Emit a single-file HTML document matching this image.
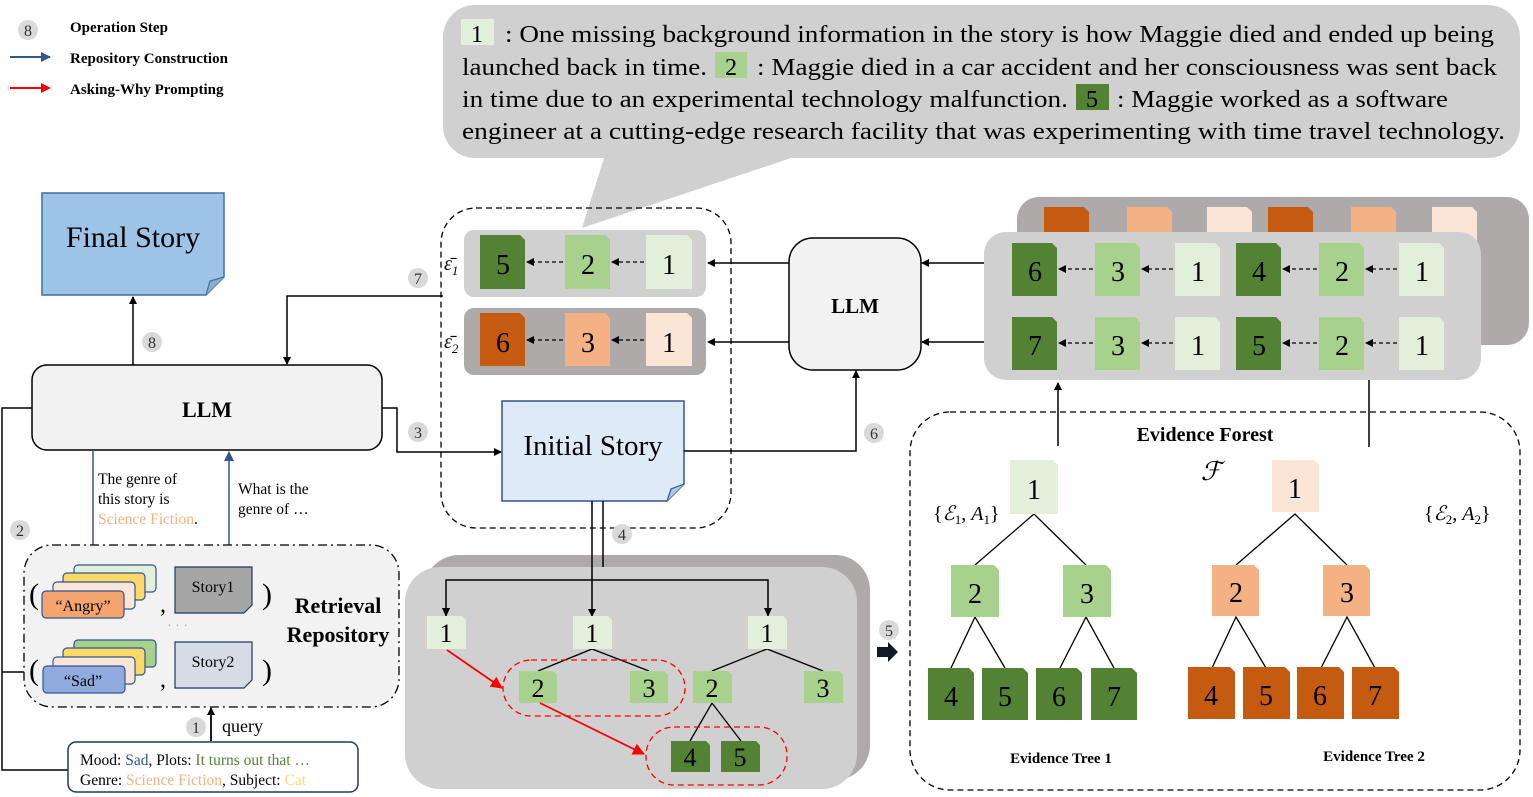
<!DOCTYPE html>
<html><head><meta charset="utf-8"><style>
html,body{margin:0;padding:0;background:#fff;}
svg{display:block;font-family:"Liberation Serif",serif;}
text{font-family:"Liberation Serif",serif;}
.n{font-size:28px;text-anchor:middle;fill:#000;}
.ns{font-size:24px;text-anchor:middle;fill:#000;}
.b{font-size:13px;text-anchor:middle;fill:#333;}
</style></head><body>
<svg width="1533" height="797" viewBox="0 0 1533 797" xmlns="http://www.w3.org/2000/svg">
<defs>
<marker id="ak" markerWidth="8" markerHeight="8" refX="7" refY="4" orient="auto" markerUnits="userSpaceOnUse"><path d="M0,0 L8,4 L0,8 Z" fill="#000"/></marker>
<marker id="ab" markerWidth="10" markerHeight="10" refX="9" refY="5" orient="auto" markerUnits="userSpaceOnUse"><path d="M0,0 L10,5 L0,10 Z" fill="#2f5597"/></marker>
<marker id="ar" markerWidth="12" markerHeight="12" refX="11" refY="6" orient="auto" markerUnits="userSpaceOnUse"><path d="M0,0 L12,6 L0,12 Z" fill="#f00"/></marker>
</defs>

<!-- legend -->
<circle cx="28" cy="30" r="10" fill="#d9d9d9"/><text x="28" y="36" class="b" style="font-size:16px">8</text>
<text x="70" y="32" font-weight="bold" font-size="15">Operation Step</text>
<line x1="10" y1="57" x2="50" y2="57" stroke="#2f5597" stroke-width="2" marker-end="url(#ab)"/>
<text x="70" y="63" font-weight="bold" font-size="15">Repository Construction</text>
<line x1="10" y1="88" x2="44" y2="88" stroke="#f00" stroke-width="2"/>
<path d="M41,83 L51,88 L41,93Z" fill="#f00"/>
<text x="70" y="94" font-weight="bold" font-size="15">Asking-Why Prompting</text>

<!-- speech bubble -->
<rect x="443" y="5" width="1077" height="153" rx="32" fill="#d0d0d0"/>
<path d="M605,155 L582,228 L800,155 Z" fill="#d0d0d0"/>
<rect x="461" y="19" width="33" height="26" fill="#e2efda"/>
<rect x="715" y="52" width="32" height="26" fill="#a9d18e"/>
<rect x="1076" y="84" width="33" height="26" fill="#548235"/>
<g font-size="24.5" fill="#000">
<text x="477" y="42" text-anchor="middle">1</text>
<text x="505" y="42" textLength="989" lengthAdjust="spacingAndGlyphs">: One missing background information in the story is how Maggie died and ended up being</text>
<text x="462" y="75" textLength="245" lengthAdjust="spacingAndGlyphs">launched back in time.</text>
<text x="731" y="75" text-anchor="middle">2</text>
<text x="757" y="75" textLength="740" lengthAdjust="spacingAndGlyphs">: Maggie died in a car accident and her consciousness was sent back</text>
<text x="462" y="107" textLength="606" lengthAdjust="spacingAndGlyphs">in time due to an experimental technology malfunction.</text>
<text x="1092" y="107" text-anchor="middle">5</text>
<text x="1117" y="107" textLength="331" lengthAdjust="spacingAndGlyphs">: Maggie worked as a software</text>
<text x="462" y="139" textLength="1043" lengthAdjust="spacingAndGlyphs">engineer at a cutting-edge research facility that was experimenting with time travel technology.</text>
</g>

<!-- Final Story -->
<path d="M42,193 H224 V277 L206,295 H42 Z" fill="#9dc3e6" stroke="#41719c" stroke-width="1.5"/>
<path d="M206,295 L210,281 L224,277" fill="#8aaecf" stroke="#41719c" stroke-width="1.2"/>
<text x="133" y="247" font-size="30" text-anchor="middle">Final Story</text>

<!-- LLM big -->
<rect x="32" y="365" width="350" height="85" rx="15" fill="#f2f2f2" stroke="#000" stroke-width="1.5"/>
<text x="207" y="417" font-size="22" font-weight="bold" text-anchor="middle">LLM</text>
<line x1="133" y1="365" x2="133" y2="297" stroke="#000" stroke-width="1.5" marker-end="url(#ak)"/>
<circle cx="152" cy="342" r="10" fill="#d9d9d9"/><text x="152" y="348" class="b" style="font-size:16px">8</text>
<polyline points="443,296 287,296 287,364" fill="none" stroke="#000" stroke-width="1.5" marker-end="url(#ak)"/>
<circle cx="418" cy="278" r="10" fill="#d9d9d9"/><text x="418" y="284" class="b" style="font-size:16px">7</text>
<polyline points="382,408 397,408 397,452 501,452" fill="none" stroke="#000" stroke-width="1.5" marker-end="url(#ak)"/>
<circle cx="418" cy="432" r="10" fill="#d9d9d9"/><text x="418" y="438" class="b" style="font-size:16px">3</text>
<polyline points="32,408 2,408 2,770 68,770" fill="none" stroke="#000" stroke-width="1.5"/>
<line x1="2" y1="672" x2="34" y2="672" stroke="#000" stroke-width="1.5"/>

<!-- blue arrows & text -->
<line x1="93" y1="450" x2="93" y2="574" stroke="#2f5597" stroke-width="1.5" marker-end="url(#ab)"/>
<line x1="229" y1="566" x2="229" y2="452" stroke="#2f5597" stroke-width="1.5" marker-end="url(#ab)"/>
<g font-size="15.5">
<text x="98" y="484">The genre of</text>
<text x="98" y="504">this story is</text>
<text x="98" y="524" fill="#f4b183">Science Fiction<tspan fill="#000">.</tspan></text>
<text x="238" y="494">What is the</text>
<text x="238" y="514">genre of …</text>
</g>
<circle cx="20" cy="530" r="10" fill="#d9d9d9"/><text x="20" y="536" class="b" style="font-size:16px">2</text>

<!-- repository -->
<rect x="24" y="545" width="375" height="162" rx="28" fill="#f2f2f2" stroke="#000" stroke-width="1.3" stroke-dasharray="9,4,2,4"/>
<g stroke="#2f5597" stroke-width="1.2">
<rect x="74" y="565" width="82" height="27" rx="4" fill="#e2efda"/>
<rect x="63" y="573" width="82" height="27" rx="4" fill="#ffd966"/>
<rect x="53" y="582" width="82" height="27" rx="4" fill="#fbe5d6"/>
<rect x="42" y="591" width="82" height="27" rx="4" fill="#f4a56f"/>
<rect x="74" y="640" width="82" height="27" rx="4" fill="#a9d18e"/>
<rect x="63" y="648" width="82" height="27" rx="4" fill="#ffd966"/>
<rect x="53" y="657" width="82" height="27" rx="4" fill="#fbe5d6"/>
<rect x="43" y="666" width="82" height="27" rx="4" fill="#8faadc"/>
</g>
<text x="83" y="611" font-size="16" text-anchor="middle">“Angry”</text>
<text x="83" y="686" font-size="16" text-anchor="middle">“Sad”</text>
<path d="M175,567 H252 V605 L244,613 H175 Z" fill="#a6a6a6" stroke="#1f3864" stroke-width="1.2"/>
<path d="M175,642 H252 V680 L244,688 H175 Z" fill="#d6dce5" stroke="#1f3864" stroke-width="1.2"/>
<text x="213" y="592" font-size="16" text-anchor="middle">Story1</text>
<text x="213" y="667" font-size="16" text-anchor="middle">Story2</text>
<g font-size="30"><text x="29" y="604">(</text><text x="29" y="680">(</text><text x="262" y="604">)</text><text x="262" y="680">)</text>
<text x="160" y="612" font-size="24">,</text><text x="160" y="687" font-size="24">,</text></g>
<text x="167" y="630" font-size="14" fill="#aaa">· · ·</text>
<text x="338" y="613" font-size="22" font-weight="bold" text-anchor="middle">Retrieval</text>
<text x="338" y="642" font-size="22" font-weight="bold" text-anchor="middle">Repository</text>

<!-- query -->
<line x1="211" y1="741" x2="211" y2="708" stroke="#000" stroke-width="1.8" marker-end="url(#ak)"/>
<circle cx="196" cy="727" r="10" fill="#d9d9d9"/><text x="196" y="733" class="b" style="font-size:16px">1</text>
<text x="222" y="732" font-size="18">query</text>
<rect x="68" y="742" width="290" height="50" rx="8" fill="#fff" stroke="#1f3864" stroke-width="1.5"/>
<g font-size="15.5">
<text x="80" y="765">Mood: <tspan fill="#2f5597">Sad</tspan>, Plots: <tspan fill="#548235">It turns out that …</tspan></text>
<text x="80" y="785">Genre: <tspan fill="#f4b183">Science Fiction</tspan>, Subject: <tspan fill="#ffd966">Cat</tspan></text>
</g>

<!-- middle dashed container -->
<rect x="441" y="208" width="290" height="320" rx="35" fill="none" stroke="#000" stroke-width="1.3" stroke-dasharray="6,4"/>
<rect x="464" y="230" width="242" height="67" rx="10" fill="#d0d0d0"/>
<rect x="464" y="308" width="242" height="67" rx="10" fill="#aeaaaa"/>
<path d="M480,235 H520 L525,240 V289 H480Z" fill="#548235"/>
<path d="M565,235 H605 L610,240 V289 H565Z" fill="#a9d18e"/>
<path d="M646,235 H687 L692,240 V289 H646Z" fill="#e2efda"/>
<path d="M480,313 H520 L525,318 V366 H480Z" fill="#c55a11"/>
<path d="M565,313 H605 L610,318 V366 H565Z" fill="#f4b183"/>
<path d="M646,313 H687 L692,318 V366 H646Z" fill="#fbe5d6"/>
<text x="503" y="274" class="n">5</text><text x="588" y="274" class="n">2</text><text x="669" y="274" class="n">1</text>
<text x="503" y="352" class="n">6</text><text x="588" y="352" class="n">3</text><text x="669" y="352" class="n">1</text>
<g stroke="#000" stroke-width="1.3" stroke-dasharray="4,3" marker-end="url(#ak)">
<line x1="563" y1="262" x2="527" y2="262"/><line x1="644" y1="262" x2="612" y2="262"/>
<line x1="563" y1="340" x2="527" y2="340"/><line x1="644" y1="340" x2="612" y2="340"/>
</g>
<text x="444" y="270" font-size="20" font-style="italic">ε̄<tspan font-size="13" dy="5">1</tspan></text>
<text x="444" y="348" font-size="20" font-style="italic">ε̄<tspan font-size="13" dy="5">2</tspan></text>

<!-- Initial story -->
<path d="M502,401 H684 V484 L667,501 H502 Z" fill="#deebf7" stroke="#2f5597" stroke-width="1.5"/>
<path d="M667,501 L671,489 L684,484" fill="#b4c7e7" stroke="#2f5597" stroke-width="1.2"/>
<text x="593" y="455" font-size="29" text-anchor="middle">Initial Story</text>
<polyline points="684,451 856,451 856,371" fill="none" stroke="#000" stroke-width="1.5" marker-end="url(#ak)"/>
<circle cx="874" cy="433" r="10" fill="#d9d9d9"/><text x="874" y="439" class="b" style="font-size:16px">6</text>

<!-- mid LLM -->
<rect x="789" y="238" width="132" height="132" rx="24" fill="#f2f2f2" stroke="#000" stroke-width="1.5"/>
<text x="855" y="313" font-size="21" font-weight="bold" text-anchor="middle">LLM</text>
<g stroke="#000" stroke-width="1.5" marker-end="url(#ak)">
<line x1="789" y1="263" x2="708" y2="263"/><line x1="789" y1="342" x2="708" y2="342"/>
<line x1="985" y1="263" x2="922" y2="263"/><line x1="985" y1="342" x2="922" y2="342"/>
</g>

<!-- right panel -->
<rect x="1017" y="197" width="512" height="148" rx="22" fill="#aeaaaa"/>
<path d="M1044,207 H1084 L1089,212 V240 H1044Z" fill="#c55a11"/>
<path d="M1127,207 H1167 L1172,212 V240 H1127Z" fill="#f4b183"/>
<path d="M1207,207 H1247 L1252,212 V240 H1207Z" fill="#fbe5d6"/>
<path d="M1268,207 H1308 L1313,212 V240 H1268Z" fill="#c55a11"/>
<path d="M1351,207 H1391 L1396,212 V240 H1351Z" fill="#f4b183"/>
<path d="M1432,207 H1472 L1477,212 V260 H1432Z" fill="#fbe5d6"/>
<rect x="984" y="232" width="497" height="148" rx="22" fill="#d0d0d0"/>
<g>
<path d="M1012,243 H1052 L1057,248 V296 H1012Z" fill="#548235"/>
<path d="M1095,243 H1135 L1140,248 V296 H1095Z" fill="#a9d18e"/>
<path d="M1175,243 H1215 L1220,248 V296 H1175Z" fill="#e2efda"/>
<path d="M1236,243 H1276 L1281,248 V296 H1236Z" fill="#548235"/>
<path d="M1319,243 H1359 L1364,248 V296 H1319Z" fill="#a9d18e"/>
<path d="M1399,243 H1439 L1444,248 V296 H1399Z" fill="#e2efda"/>
<path d="M1012,317 H1052 L1057,322 V370 H1012Z" fill="#548235"/>
<path d="M1095,317 H1135 L1140,322 V370 H1095Z" fill="#a9d18e"/>
<path d="M1175,317 H1215 L1220,322 V370 H1175Z" fill="#e2efda"/>
<path d="M1236,317 H1276 L1281,322 V370 H1236Z" fill="#548235"/>
<path d="M1319,317 H1359 L1364,322 V370 H1319Z" fill="#a9d18e"/>
<path d="M1399,317 H1439 L1444,322 V370 H1399Z" fill="#e2efda"/>
</g>
<text x="1035" y="281" class="n">6</text><text x="1118" y="281" class="n">3</text><text x="1198" y="281" class="n">1</text>
<text x="1259" y="281" class="n">4</text><text x="1342" y="281" class="n">2</text><text x="1422" y="281" class="n">1</text>
<text x="1035" y="355" class="n">7</text><text x="1118" y="355" class="n">3</text><text x="1198" y="355" class="n">1</text>
<text x="1259" y="355" class="n">5</text><text x="1342" y="355" class="n">2</text><text x="1422" y="355" class="n">1</text>
<g stroke="#000" stroke-width="1.3" stroke-dasharray="4,3" marker-end="url(#ak)">
<line x1="1093" y1="269" x2="1059" y2="269"/><line x1="1173" y1="269" x2="1142" y2="269"/>
<line x1="1317" y1="269" x2="1283" y2="269"/><line x1="1397" y1="269" x2="1366" y2="269"/>
<line x1="1093" y1="343" x2="1059" y2="343"/><line x1="1173" y1="343" x2="1142" y2="343"/>
<line x1="1317" y1="343" x2="1283" y2="343"/><line x1="1397" y1="343" x2="1366" y2="343"/>
</g>
<line x1="1058" y1="446" x2="1058" y2="383" stroke="#000" stroke-width="1.5" marker-end="url(#ak)"/>
<line x1="1369" y1="380" x2="1369" y2="447" stroke="#000" stroke-width="1.5"/>

<!-- Evidence forest -->
<rect x="910" y="412" width="610" height="378" rx="40" fill="none" stroke="#000" stroke-width="1.3" stroke-dasharray="6,4"/>
<text x="1205" y="441" font-size="20" font-weight="bold" text-anchor="middle">Evidence Forest</text>
<text x="1211" y="480" font-size="26" font-style="italic" text-anchor="middle">ℱ</text>
<g stroke="#000" stroke-width="1.3" fill="none">
<polyline points="975,565 1034,514 1086,565"/><polyline points="951,668 975,617 1005,668"/><polyline points="1060,668 1086,617 1114,668"/>
<polyline points="1236,565 1295,514 1347,565"/><polyline points="1212,668 1236,617 1266,668"/><polyline points="1321,668 1347,617 1375,668"/>
</g>
<path d="M1010,460 H1053 L1058,465 V514 H1010Z" fill="#e2efda"/>
<path d="M951,565 H994 L999,570 V617 H951Z" fill="#a9d18e"/>
<path d="M1063,565 H1106 L1111,570 V617 H1063Z" fill="#a9d18e"/>
<path d="M928,668 H969 L974,673 V720 H928Z" fill="#548235"/>
<path d="M982,668 H1023 L1028,673 V720 H982Z" fill="#548235"/>
<path d="M1036,668 H1077 L1082,673 V720 H1036Z" fill="#548235"/>
<path d="M1091,668 H1132 L1137,673 V720 H1091Z" fill="#548235"/>
<path d="M1272,460 H1314 L1319,465 V512 H1272Z" fill="#fbe5d6"/>
<path d="M1212,565 H1254 L1259,570 V616 H1212Z" fill="#f4b183"/>
<path d="M1323,565 H1365 L1370,570 V616 H1323Z" fill="#f4b183"/>
<path d="M1188,667 H1230 L1235,672 V719 H1188Z" fill="#c55a11"/>
<path d="M1243,667 H1285 L1290,672 V719 H1243Z" fill="#c55a11"/>
<path d="M1297,667 H1339 L1344,672 V719 H1297Z" fill="#c55a11"/>
<path d="M1352,667 H1394 L1399,672 V719 H1352Z" fill="#c55a11"/>
<text x="1034" y="499" class="n">1</text><text x="975" y="603" class="n">2</text><text x="1087" y="603" class="n">3</text>
<text x="951" y="706" class="n">4</text><text x="1005" y="706" class="n">5</text><text x="1059" y="706" class="n">6</text><text x="1114" y="706" class="n">7</text>
<text x="1295" y="498" class="n">1</text><text x="1236" y="602" class="n">2</text><text x="1347" y="602" class="n">3</text>
<text x="1211" y="705" class="n">4</text><text x="1266" y="705" class="n">5</text><text x="1320" y="705" class="n">6</text><text x="1375" y="705" class="n">7</text>
<text x="933" y="520" font-size="20">{<tspan font-style="italic">ℰ</tspan><tspan font-size="13" dy="4">1</tspan><tspan dy="-4">, </tspan><tspan font-style="italic">A</tspan><tspan font-size="13" dy="4">1</tspan><tspan dy="-4">}</tspan></text>
<text x="1424" y="520" font-size="20">{<tspan font-style="italic">ℰ</tspan><tspan font-size="13" dy="4">2</tspan><tspan dy="-4">, </tspan><tspan font-style="italic">A</tspan><tspan font-size="13" dy="4">2</tspan><tspan dy="-4">}</tspan></text>
<text x="1061" y="763" font-size="15" font-weight="bold" text-anchor="middle">Evidence Tree 1</text>
<text x="1374" y="761" font-size="15" font-weight="bold" text-anchor="middle">Evidence Tree 2</text>

<!-- bottom middle tree panel -->
<rect x="424" y="555" width="446" height="225" rx="35" fill="#aeaaaa"/>
<rect x="405" y="567" width="452" height="222" rx="35" fill="#d0d0d0"/>
<line x1="592" y1="501" x2="592" y2="616" stroke="#000" stroke-width="1.5" marker-end="url(#ak)"/>
<line x1="603" y1="501" x2="603" y2="567" stroke="#000" stroke-width="1.5"/>
<circle cx="622" cy="534" r="10" fill="#d9d9d9"/><text x="622" y="540" class="b" style="font-size:16px">4</text>
<polyline points="446,616 446,580 768,580 768,616" fill="none" stroke="#000" stroke-width="1.5"/>
<path d="M442,608 L446,617 L450,608Z M764,608 L768,617 L772,608Z"/>
<g stroke="#000" stroke-width="1.3" fill="none">
<polyline points="538,671 592,649 649,671"/><polyline points="712,671 767,649 823,671"/><polyline points="690,741 712,703 741,741"/>
</g>
<path d="M427,616 H462 L466,620 V649 H427Z" fill="#e2efda"/>
<path d="M573,616 H608 L612,620 V649 H573Z" fill="#e2efda"/>
<path d="M748,616 H783 L787,620 V649 H748Z" fill="#e2efda"/>
<path d="M519,671 H553 L557,675 V703 H519Z" fill="#a9d18e"/>
<path d="M630,671 H664 L668,675 V703 H630Z" fill="#a9d18e"/>
<path d="M693,671 H728 L732,675 V703 H693Z" fill="#a9d18e"/>
<path d="M804,671 H839 L843,675 V703 H804Z" fill="#a9d18e"/>
<path d="M671,741 H706 L710,745 V772 H671Z" fill="#548235"/>
<path d="M721,741 H756 L760,745 V772 H721Z" fill="#548235"/>
<text x="446" y="642" class="ns" style="font-size:26px">1</text><text x="592" y="642" class="ns" style="font-size:26px">1</text><text x="767" y="642" class="ns" style="font-size:26px">1</text>
<text x="538" y="697" class="ns" style="font-size:26px">2</text><text x="649" y="697" class="ns" style="font-size:26px">3</text>
<text x="712" y="697" class="ns" style="font-size:26px">2</text><text x="823" y="697" class="ns" style="font-size:26px">3</text>
<text x="690" y="766" class="ns" style="font-size:26px">4</text><text x="740" y="766" class="ns" style="font-size:26px">5</text>
<rect x="503" y="660" width="182" height="56" rx="28" fill="none" stroke="#f00" stroke-width="1.3" stroke-dasharray="6,4"/>
<rect x="646" y="727" width="141" height="58" rx="28" fill="none" stroke="#f00" stroke-width="1.3" stroke-dasharray="6,4"/>
<line x1="447" y1="650" x2="502" y2="688" stroke="#f00" stroke-width="1.8" marker-end="url(#ar)"/>
<line x1="540" y1="703" x2="644" y2="754" stroke="#f00" stroke-width="1.8" marker-end="url(#ar)"/>

<!-- step 5 arrow -->
<circle cx="889" cy="630" r="10" fill="#d9d9d9"/><text x="889" y="636" class="b" style="font-size:16px">5</text>
<path d="M877,647 H888 V642 L898,652 L888,662 V657 H877 Z" fill="#0d1b2a"/>
</svg>
</body></html>
